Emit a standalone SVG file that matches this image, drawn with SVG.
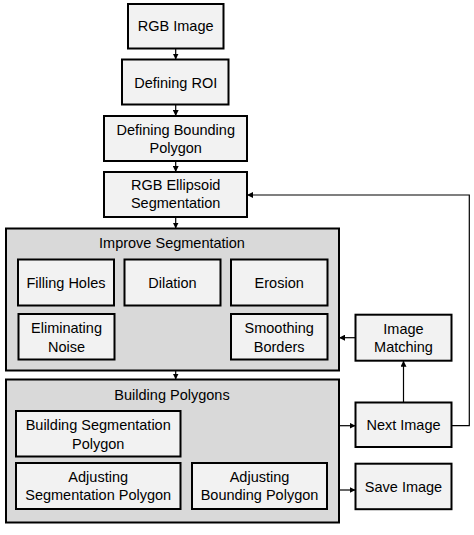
<svg xmlns="http://www.w3.org/2000/svg" width="474" height="535" viewBox="0 0 474 535">
<defs>
<marker id="ah" viewBox="0 0 10 10" refX="10" refY="5" markerWidth="6" markerHeight="6" markerUnits="userSpaceOnUse" orient="auto">
<path d="M0,0 L10,5 L0,10 z" fill="#000"/>
</marker>
<style>
.box{fill:#f2f2f2;stroke:#000;stroke-width:2}
.cont{fill:#d9d9d9;stroke:#000;stroke-width:2}
text{font-family:"Liberation Sans",Arial,sans-serif;font-size:14.5px;fill:#000;text-anchor:middle;dominant-baseline:central}
.ln{fill:none;stroke:#000;stroke-width:1.2}
.ar{fill:none;stroke:#000;stroke-width:1.2;marker-end:url(#ah)}
</style>
</defs>
<rect width="474" height="535" fill="#fff"/>
<g id="improve"><rect class="cont" x="6" y="228.5" width="333" height="142"/><text x="172" y="242.5">Improve Segmentation</text></g>
<g id="building"><rect class="cont" x="6" y="379.5" width="333" height="143"/><text x="172" y="394.5">Building Polygons</text></g>
<g id="rgb"><rect class="box" x="128" y="4" width="95.5" height="44.5"/><text x="175.7" y="26">RGB Image</text></g>
<g id="roi"><rect class="box" x="122" y="59.5" width="106.5" height="45"/><text x="175.7" y="82.5">Defining ROI</text></g>
<g id="bpoly"><rect class="box" x="104" y="116" width="143" height="45"/><text x="175.7" y="130">Defining Bounding</text><text x="175.7" y="147.7">Polygon</text></g>
<g id="ellip"><rect class="box" x="104" y="172" width="143" height="45"/><text x="175.7" y="185">RGB Ellipsoid</text><text x="175.7" y="203.3">Segmentation</text></g>
<g id="filling"><rect class="box" x="18" y="259.5" width="96" height="46"/><text x="66" y="282.7">Filling Holes</text></g>
<g id="dilation"><rect class="box" x="124.5" y="259.5" width="96" height="46"/><text x="172.5" y="282.7">Dilation</text></g>
<g id="erosion"><rect class="box" x="231" y="259.5" width="96.5" height="46"/><text x="279.2" y="282.7">Erosion</text></g>
<g id="noise"><rect class="box" x="18.5" y="314" width="96" height="45.5"/><text x="66.5" y="328.3">Eliminating</text><text x="66.5" y="346.7">Noise</text></g>
<g id="smooth"><rect class="box" x="231" y="314" width="96.5" height="45.5"/><text x="279.2" y="328.3">Smoothing</text><text x="279.2" y="346.7">Borders</text></g>
<g id="matching"><rect class="box" x="355.5" y="314.7" width="96" height="46"/><text x="403.5" y="329">Image</text><text x="403.5" y="346.7">Matching</text></g>
<g id="bseg"><rect class="box" x="16" y="411" width="164.5" height="45.5"/><text x="98.2" y="425">Building Segmentation</text><text x="98.2" y="444">Polygon</text></g>
<g id="aseg"><rect class="box" x="16" y="463" width="164.5" height="46"/><text x="98.2" y="476.7">Adjusting</text><text x="98.2" y="495">Segmentation Polygon</text></g>
<g id="abound"><rect class="box" x="192" y="463" width="135" height="46"/><text x="259.5" y="476.7">Adjusting</text><text x="259.5" y="495">Bounding Polygon</text></g>
<g id="next"><rect class="box" x="355.5" y="402.5" width="96" height="44.5"/><text x="403.5" y="425">Next Image</text></g>
<g id="save"><rect class="box" x="355.5" y="463.7" width="96" height="45.5"/><text x="403.5" y="486.7">Save Image</text></g>
<g id="connectors">
<path class="ar" d="M175.7,48.5 V59.5"/>
<path class="ar" d="M175.7,104.5 V116"/>
<path class="ar" d="M175.7,161 V172"/>
<path class="ar" d="M175.7,217 V228.5"/>
<path class="ar" d="M175.7,370.5 V379.5"/>
<path class="ar" d="M339,425.7 H355.5"/>
<path class="ar" d="M339,490 H355.5"/>
<path class="ar" d="M403.5,402.5 V360.7"/>
<path class="ar" d="M355.5,337.7 H339"/>
<path class="ar" d="M451.5,425.7 H469.3 V195 H247"/>
</g>
</svg>
